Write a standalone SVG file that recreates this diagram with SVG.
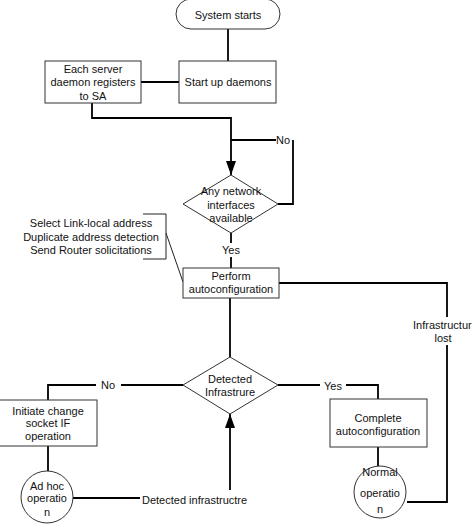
<svg xmlns="http://www.w3.org/2000/svg" width="474" height="529" viewBox="0 0 474 529">
<style>
text{font-family:"Liberation Sans",Arial,sans-serif;font-size:11px;fill:#111;text-anchor:middle}
.shape{fill:#fff;stroke:#333;stroke-width:1}
.conn{fill:none;stroke:#000;stroke-width:1.8}
.thin{fill:none;stroke:#222;stroke-width:1}
</style>
<defs>
<marker id="arr" markerUnits="userSpaceOnUse" markerWidth="15" markerHeight="10" refX="14" refY="5" orient="auto">
<path d="M0,0 L14,5 L0,10 z" fill="#000"/>
</marker>
</defs>
<rect width="474" height="529" fill="#fff"/>
<g id="connectors">
<path class="conn" d="M228,29 V61"/>
<path class="conn" d="M141,82 H179"/>
<path class="conn" d="M92,103 V118 H231 V175" marker-end="url(#arr)"/>
<path class="conn" d="M231,140 H276"/>
<path class="conn" d="M293,140 V204 H278"/>
<path class="conn" d="M231,233 V243"/>
<path class="conn" d="M231,257 V268"/>
<path class="conn" d="M279,283 H447 V317"/>
<path class="conn" d="M447,345 V502 H407"/>
<path class="conn" d="M230,298 V357"/>
<path class="conn" d="M183,385 H121"/>
<path class="conn" d="M96,385 H48 V400"/>
<path class="conn" d="M278,385 H320"/>
<path class="conn" d="M346,385 H378 V399"/>
<path class="conn" d="M378,447 V466"/>
<path class="conn" d="M48,446 V471"/>
<path class="conn" d="M73,498 H140"/>
<path class="conn" d="M230,490 V414" marker-end="url(#arr)"/>
<path class="thin" d="M143,214 H166 V259 H143"/>
<path class="thin" d="M166,233 L183,282"/>
<text x="283" y="144">No</text>
<text x="231" y="254">Yes</text>
<text x="108" y="389">No</text>
<text x="333" y="390">Yes</text>
<text x="413" y="329" style="text-anchor:start">Infrastructur</text>
<text x="443" y="342">lost</text>
<text x="142" y="504" style="text-anchor:start">Detected infrastructre</text>
</g>
<g id="system-starts">
<rect class="shape" x="176" y="-1" width="104" height="30" rx="15"/>
<text x="228" y="19">System starts</text>
</g>
<g id="start-up-daemons">
<rect class="shape" x="179" y="61" width="97" height="42"/>
<text x="228" y="86">Start up daemons</text>
</g>
<g id="each-server">
<rect class="shape" x="45" y="61" width="96" height="42"/>
<text x="93" y="73">Each server</text>
<text x="93" y="86">daemon registers</text>
<text x="93" y="100">to SA</text>
</g>
<g id="any-network">
<polygon class="shape" points="231,175 278,204 231,233 183,204"/>
<text x="231" y="195">Any network</text>
<text x="231" y="209">interfaces</text>
<text x="231" y="222">available</text>
</g>
<g id="annotation">
<text x="91" y="227">Select Link-local address</text>
<text x="91" y="241">Duplicate address detection</text>
<text x="91" y="254">Send Router solicitations</text>
</g>
<g id="perform">
<rect class="shape" x="183" y="268" width="96" height="30"/>
<text x="231" y="280">Perform</text>
<text x="231" y="293">autoconfiguration</text>
</g>
<g id="detected">
<polygon class="shape" points="230,357 278,385 230,414 183,385"/>
<text x="230" y="383">Detected</text>
<text x="230" y="396">Infrastrure</text>
</g>
<g id="initiate">
<rect class="shape" x="-2" y="400" width="99" height="46"/>
<text x="48" y="415">Initiate change</text>
<text x="48" y="427">socket IF</text>
<text x="48" y="440">operation</text>
</g>
<g id="complete">
<rect class="shape" x="330" y="399" width="97" height="48"/>
<text x="378" y="422">Complete</text>
<text x="378" y="435">autoconfiguration</text>
</g>
<g id="adhoc">
<circle class="shape" cx="47" cy="497" r="26"/>
<text x="47" y="490">Ad hoc</text>
<text x="47" y="502">operatio</text>
<text x="47" y="516">n</text>
</g>
<g id="normal">
<circle class="shape" cx="380" cy="492" r="26"/>
<text x="380" y="476">Normal</text>
<text x="380" y="497">operatio</text>
<text x="380" y="513">n</text>
</g>
</svg>
